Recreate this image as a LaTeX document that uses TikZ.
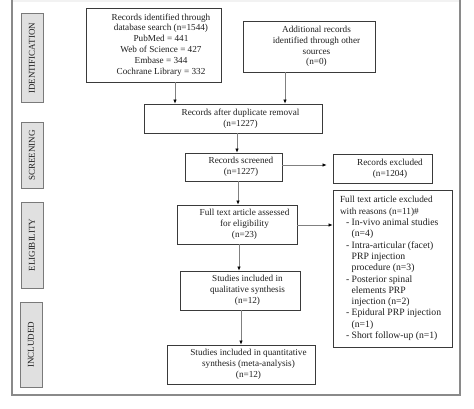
\documentclass[tikz,border=0pt]{standalone}
\usepackage{fontspec}
\setmainfont{Liberation Serif}
\usetikzlibrary{arrows.meta}
\definecolor{boxline}{HTML}{3A3A3A}
\definecolor{arrline}{HTML}{808080}
\definecolor{framec}{HTML}{8A8A8A}
\definecolor{sidefill}{HTML}{E0E0E0}
\definecolor{sideline}{HTML}{7A7A7A}
\definecolor{txt}{HTML}{1E1E1E}
\definecolor{bandc}{HTML}{F2F2F2}
\newcommand{\bx}[1]{\hspace*{15pt}\begin{tabular}{@{}c@{}}#1\end{tabular}}
\newcommand{\itm}{\hspace*{6pt}}
\newcommand{\hng}{\hspace*{6pt}\phantom{- }}
\tikzset{
 flowbox/.style={draw=boxline, line width=0.9pt, inner sep=0pt, text=txt, font=\fontsize{9.2}{10.8}\selectfont},
 sidebox/.style={draw=sideline, fill=sidefill, line width=1pt, rotate=90, inner sep=0pt, minimum height=22pt, font=\fontsize{9}{10}\selectfont, text=txt},
 arr/.style={draw=arrline, line width=0.7pt, -{Latex[length=4pt,width=3.6pt,color=black]}},
}
\begin{document}
\begin{tikzpicture}[x=1pt,y=-1pt]
\useasboundingbox (0,0) rectangle (474,409);
\fill[bandc] (12.5,0) rectangle (459.5,2.5);
\draw[framec, line width=1.1pt] (12,0) -- (12,395) -- (460,395) -- (460,0);

\node[sidebox, minimum width=89pt] (sid) at (32,58.5) {IDENTIFICATION};
\node[sidebox, minimum width=65pt] (ssc) at (32,155.5) {SCREENING};
\node[sidebox, minimum width=86pt] (sel) at (32,245) {ELIGIBILITY};
\node[sidebox, minimum width=85pt] (sin) at (31,344.5) {INCLUDED};

\node[flowbox, minimum width=135pt, minimum height=74pt] (ident) at (153.5,45) {\bx{Records identified through\\database search (n=1544)\\PubMed = 441\\Web of Science = 427\\Embase = 344\\Cochrane Library = 332}};
\node[flowbox, minimum width=132pt, minimum height=51pt] (add) at (309,46.5) {\bx{Additional records\\identified through other\\sources\\(n=0)}};
\node[flowbox, minimum width=178pt, minimum height=29pt] (dup) at (233,118.5) {\bx{Records after duplicate removal\\(n=1227)}};
\node[flowbox, minimum width=97pt, minimum height=28pt] (scr) at (233.5,167) {\bx{Records screened\\(n=1227)}};
\node[flowbox, minimum width=99pt, minimum height=29pt] (rexc) at (382.5,168.5) {\bx{Records excluded\\(n=1204)}};
\node[flowbox, minimum width=120pt, minimum height=39pt] (ft) at (237,224.5) {\bx{Full text article assessed\\for eligibility\\(n=23)}};
\node[flowbox, minimum width=120pt, minimum height=39pt] (qual) at (240,290.5) {\bx{Studies included in\\qualitative synthesis\\(n=12)}};
\node[flowbox, minimum width=148pt, minimum height=39pt] (quant) at (241,364.5) {\bx{Studies included in quantitative\\synthesis (meta-analysis)\\(n=12)}};
\node[flowbox, minimum width=119pt, minimum height=157pt, font=\fontsize{9.3}{11.3}\selectfont] (ftexc) at (392.5,268.5) {\makebox[105pt][l]{\begin{tabular}{@{}l@{}}
Full text article excluded\\
with reasons (n=11)\#\\
\fontsize{9.7}{11.3}\selectfont\itm- In-vivo animal studies\\
\fontsize{9.7}{11.3}\selectfont\hng(n=4)\\
\fontsize{9.7}{11.3}\selectfont\itm- Intra-articular (facet)\\
\fontsize{9.7}{11.3}\selectfont\hng PRP injection\\
\fontsize{9.7}{11.3}\selectfont\hng procedure (n=3)\\
\fontsize{9.7}{11.3}\selectfont\itm- Posterior spinal\\
\fontsize{9.7}{11.3}\selectfont\hng elements PRP\\
\fontsize{9.7}{11.3}\selectfont\hng injection (n=2)\\
\fontsize{9.7}{11.3}\selectfont\itm- Epidural PRP injection\\
\fontsize{9.7}{11.3}\selectfont\hng(n=1)\\
\fontsize{9.7}{11.3}\selectfont\itm- Short follow-up (n=1)
\end{tabular}}};

\draw[arr] (ident.south -| 175,0) -- (dup.north -| 175,0);
\draw[arr] (add.south -| 285,0) -- (dup.north -| 285,0);
\draw[arr] (dup.south -| 237,0) -- (scr.north -| 237,0);
\draw[arr] (scr.south -| 238,0) -- (ft.north -| 238,0);
\draw[arr] (ft.south -| 239,0) -- (qual.north -| 239,0);
\draw[arr] (qual.south -| 241,0) -- (quant.north -| 241,0);
\draw[arr, shorten >=6pt] (scr.east |- 0,165) -- (rexc.west |- 0,165);
\draw[arr] (ft.east |- 0,225) -- (ftexc.west |- 0,225);
\end{tikzpicture}
\end{document}
